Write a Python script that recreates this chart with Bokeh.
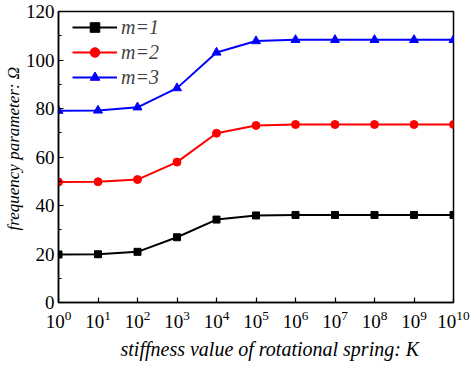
from bokeh.plotting import figure
from bokeh.models import FixedTicker, SingleIntervalTicker, Range1d, Legend, LegendItem, Title
from bokeh.embed import file_html
from bokeh.resources import INLINE

K = [1e0, 1e1, 1e2, 1e3, 1e4, 1e5, 1e6, 1e7, 1e8, 1e9, 1e10]
m1 = [19.8, 19.9, 20.9, 26.9, 34.2, 35.9, 36.1, 36.1, 36.1, 36.1, 36.1]
m2 = [49.7, 49.8, 50.7, 57.9, 69.8, 73.0, 73.4, 73.4, 73.4, 73.4, 73.4]
m3 = [79.1, 79.2, 80.5, 88.4, 103.1, 107.8, 108.3, 108.3, 108.3, 108.3, 108.3]
x_ticks = [1e0, 1e1, 1e2, 1e3, 1e4, 1e5, 1e6, 1e7, 1e8, 1e9, 1e10]
labels = ["m=1", "m=2", "m=3"]
x_title = "stiffness value of rotational spring: K"
y_title = "frequency parameter: \u03a9"

FONT = "Liberation Serif"

p = figure(frame_width=395, frame_height=291, x_axis_type="log", output_backend="svg",
           toolbar_location=None, x_range=Range1d(1, 1e10), y_range=Range1d(0, 120),
           min_border_left=58, min_border_right=21, min_border_top=11, min_border_bottom=66)
p.grid.visible = False
p.outline_line_color = "black"
p.outline_line_width = 1.5
p.background_fill_color = "white"
p.border_fill_color = "white"

r1l = p.line(K, m1, color="black", line_width=2)
r1m = p.scatter(K, m1, marker="square", size=7, color="black")
r2l = p.line(K, m2, color="#ff0000", line_width=2)
r2m = p.scatter(K, m2, marker="circle", size=8, color="#ff0000")
r3l = p.line(K, m3, color="#0000ff", line_width=2)
r3m = p.scatter(K, m3, marker="triangle", size=9, color="#0000ff")

for ax in (p.xaxis[0], p.yaxis[0]):
    ax.axis_line_color = "black"
    ax.axis_line_width = 1.5
    ax.major_tick_in = 5
    ax.major_tick_out = 0
    ax.minor_tick_in = 3
    ax.minor_tick_out = 0
    ax.major_tick_line_color = "black"
    ax.major_tick_line_width = 1.2
    ax.minor_tick_line_width = 1.2
    ax.major_label_text_font = FONT
    ax.major_label_text_font_size = "19px"
    ax.major_label_text_color = "black"

p.xaxis.ticker = FixedTicker(ticks=x_ticks)
p.xaxis.minor_tick_line_color = None
p.xaxis.major_label_standoff = 8

p.yaxis.ticker = SingleIntervalTicker(interval=20, num_minor_ticks=2)
p.yaxis.major_label_standoff = 4

xt = Title(text=x_title, align="left", offset=62, text_font=FONT,
           text_font_size="20px", text_font_style="italic", text_color="black",
           standoff=11)
p.add_layout(xt, "below")
yt = Title(text=y_title, align="left", offset=72, text_font=FONT,
           text_font_size="17px", text_font_style="italic", text_color="black",
           standoff=0)
p.add_layout(yt, "left")

legend = Legend(items=[LegendItem(label=labels[0], renderers=[r1l, r1m]),
                       LegendItem(label=labels[1], renderers=[r2l, r2m]),
                       LegendItem(label=labels[2], renderers=[r3l, r3m])],
                location=(14, 213))
legend.border_line_color = None
legend.background_fill_alpha = 0
legend.label_text_font = FONT
legend.label_text_font_style = "italic"
legend.label_text_font_size = "20px"
legend.glyph_width = 45
legend.glyph_height = 24
legend.label_height = 24
legend.spacing = 1
legend.label_standoff = 4
legend.margin = 0
legend.padding = 0
p.add_layout(legend)

open("out.html", "w").write(file_html(p, INLINE))
